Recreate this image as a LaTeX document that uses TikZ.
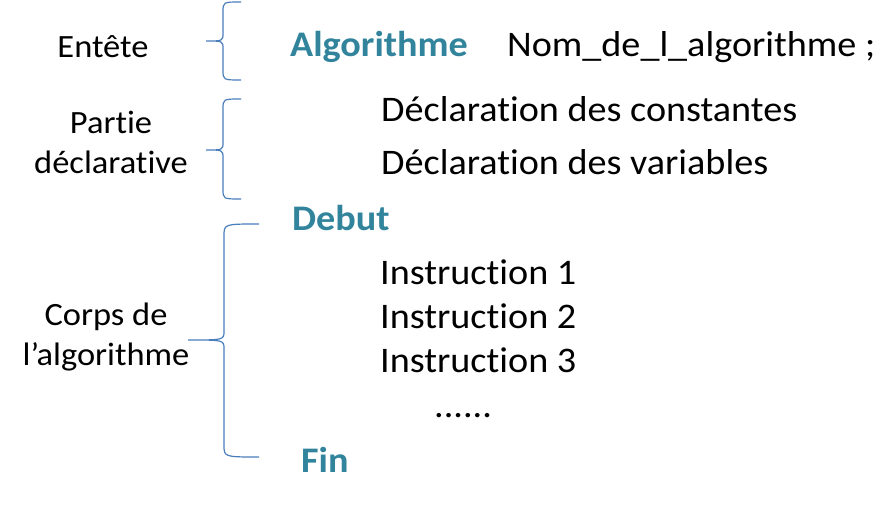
\documentclass[tikz,border=0pt]{standalone}
\usepackage{fontspec}
\setmainfont{Carlito}[FakeStretch=1.06,Ligatures=NoCommon]
\definecolor{bleucanard}{HTML}{31849B}
\definecolor{bleuaccol}{HTML}{4A7EBB}

\begin{document}
\begin{tikzpicture}[x=1pt,y=-1pt,
  accol/.style={draw=bleuaccol,line width=1.2pt},
  motcle/.style={anchor=base west,text=bleucanard,inner sep=0pt,font=\fontsize{36}{42}\selectfont\bfseries},
  texte/.style={anchor=base west,inner sep=0pt,font=\fontsize{36}{42}\selectfont},
  partie/.style={align=center,inner sep=0pt,font=\fontsize{32.5}{40}\selectfont}]

\useasboundingbox (0,0) rectangle (896,505);

% les accolades
\draw[accol] (241,2) .. controls (223,2) .. (223,12) -- (223,33)
      .. controls (223,41) .. (206,41) .. controls (223,41) .. (223,49)
      -- (223,70) .. controls (223,80) .. (241,80);
\draw[accol] (241,99) .. controls (223,99) .. (223,109) -- (223,142)
      .. controls (223,150) .. (206,150) .. controls (223,150) .. (223,158)
      -- (223,189) .. controls (223,199) .. (241,199);
\draw[accol] (259,224) .. controls (224,224) .. (224,236) -- (224,331)
      .. controls (224,340) .. (188,340) .. controls (224,340) .. (224,349)
      -- (224,445) .. controls (224,457) .. (259,457);

% les parties
\node[partie] (entete) at (103,47) {Entête};
\node[partie] (declar) at (111,142) {Partie\\déclarative};
\node[partie] (corps) at (106,337) {Corps de\\l’algorithme};

% l'algorithme
\node[motcle] (algo) at (290,57) {Algorithme};
\node[texte] (nom) at (507,57) {Nom\_de\_l\_algorithme ;};
\node[texte] (dconst) at (381,122) {Déclaration des constantes};
\node[texte] (dvar) at (381,175) {Déclaration des variables};
\node[motcle] (debut) at (292,230) {Debut};
\node[texte] (instr1) at (380,284) {Instruction 1};
\node[texte] (instr2) at (380,328) {Instruction 2};
\node[texte] (instr3) at (380,372) {Instruction 3};
\node[texte] (points) at (434,417) {......};
\node[motcle] (fin) at (301,472) {Fin};
\end{tikzpicture}
\end{document}
